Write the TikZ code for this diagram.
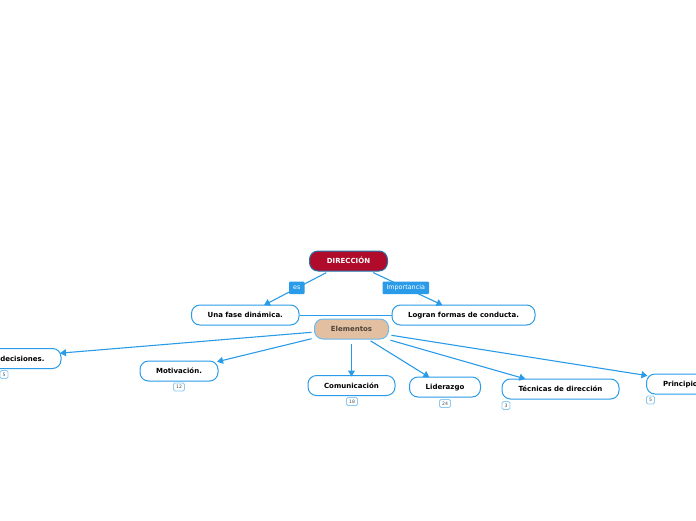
\documentclass[tikz,border=0pt]{standalone}
\usepackage{fontspec}
\setmainfont{DejaVu Sans}
\usetikzlibrary{arrows.meta}
\definecolor{linkblue}{HTML}{2A9BE8}
\definecolor{rootred}{HTML}{B00B2B}
\definecolor{tan}{HTML}{E2BFA0}
\definecolor{softblue}{HTML}{8CCBF2}
\tikzset{
  x=1pt,y=-1pt,
  idea/.style={draw=linkblue,line width=1pt,fill=white,rounded corners=8.5pt,minimum height=20pt,inner sep=0pt,text height=5pt,text depth=0pt,font=\fontsize{7pt}{8pt}\selectfont\bfseries,text=black},
  rootbox/.style={idea,fill=rootred,text=white,draw=linkblue!75!black},
  elembox/.style={idea,fill=tan,text=black!65!tan,draw=linkblue!70!white},
  tagbox/.style={fill=linkblue,rounded corners=1pt,inner sep=0pt,minimum height=12.5pt,text=white,font=\fontsize{6.4pt}{7pt}\selectfont},
  badge/.style={draw=softblue,line width=.8pt,fill=white,rounded corners=1.5pt,inner sep=0pt,minimum height=8pt,minimum width=8pt,font=\fontsize{4.6pt}{5pt}\selectfont,text=black!70},
  link/.style={draw=linkblue,line width=1.1pt,-{Triangle[length=6pt,width=7pt]},shorten <=2.5pt,shorten >=-1.5pt},
  plain/.style={draw=linkblue,line width=.9pt},
}
\begin{document}
\begin{tikzpicture}
\useasboundingbox (0,0) rectangle (696,520);
\node[rootbox,minimum width=78pt] (dir) at (348.5,261) {DIRECCIÓN};
\node[idea,minimum width=107.5pt] (una) at (245.25,315) {Una fase dinámica.};
\node[idea,minimum width=143pt] (log) at (463.5,315) {Logran formas de conducta.};
\node[elembox,minimum width=74pt] (ele) at (351.5,329) {Elementos};
\node[idea,text width=131pt,minimum width=131pt,align=right,inner xsep=0pt] (dec) at (-4.5,358.5) {decisiones.\hspace*{16.5pt}};
\node[idea,minimum width=78pt] (mot) at (179,371) {Motivación.};
\node[idea,minimum width=87pt] (com) at (351.5,385.5) {Comunicación};
\node[idea,minimum width=71pt] (lid) at (445,387) {Liderazgo};
\node[idea,minimum width=117pt] (tec) at (560.5,389) {Técnicas de dirección};
\node[idea,text width=108pt,minimum width=108pt,align=left] (pri) at (700.5,384) {\hspace*{16.5pt}Principio};
\draw[plain] (una) -- (log);
\draw[link] (dir) -- (una);
\draw[link] (dir) -- (log);
\draw[link] (ele) -- (dec);
\draw[link] (ele) -- (mot);
\draw[link,shorten <=4pt] (ele) -- (com);
\draw[link] (ele) -- (lid);
\draw[link] (ele) -- (tec);
\draw[link] (ele) -- (pri);
\node[tagbox,minimum width=15.5pt] (tes) at (296.75,287.75) {es};
\node[tagbox,minimum width=46.5pt] (timp) at (405.75,287.75) {Importancia};
\node[badge] (b1) at (4,374.5) {5};
\node[badge,minimum width=11pt] (b2) at (179,387) {12};
\node[badge,minimum width=11pt] (b3) at (352,401.5) {18};
\node[badge,minimum width=11pt] (b4) at (445,403.5) {24};
\node[badge] (b5) at (506,405.5) {3};
\node[badge] (b6) at (650.5,400) {5};
\end{tikzpicture}
\end{document}
